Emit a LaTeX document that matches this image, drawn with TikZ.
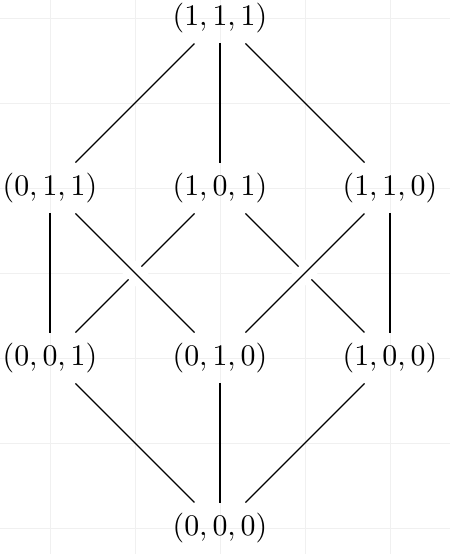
\documentclass[tikz,border=0pt]{standalone}
\usepackage{amsmath}
\usepackage{tikz}
\begin{document}
\begin{tikzpicture}[crossline/.style={preaction={draw=white,line width=6pt}}]
  \useasboundingbox (-2.588,-0.306) rectangle (2.706,6.212);
  \begin{scope}
    \clip (-2.588,-0.306) rectangle (2.706,6.212);
    \draw [gray!12,very thin](-3,-1) grid (3,7);
  \end{scope}
  \node at(0,6)(a111){$(1,1,1)$};
  \node at(-2,4)(a011){$(0,1,1)$};
  \node at(0,4)(a101){$(1,0,1)$};
  \node at(2,4)(a110){$(1,1,0)$};
  \node at(-2,2)(a001){$(0,0,1)$};
  \node at(0,2)(a010){$(0,1,0)$};
  \node at(2,2)(a100){$(1,0,0)$};
  \node at(0,0)(a000){$(0,0,0)$};
  \draw (a111) -- (a011);
  \draw (a111) -- (a101);
  \draw (a111) -- (a110);
  \draw (a011) -- (a001);
  \draw (a110) -- (a100);
  \draw (a101) -- (a001);
  \draw (a101) -- (a100);
  \draw [crossline](a011) -- (a010);
  \draw [crossline](a110) -- (a010);
  \draw (a001) -- (a000);
  \draw (a010) -- (a000);
  \draw (a100) -- (a000);
\end{tikzpicture}
\end{document}
